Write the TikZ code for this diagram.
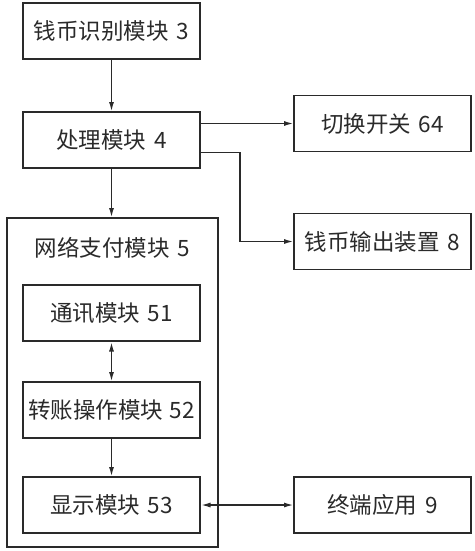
\documentclass[tikz,border=0pt]{standalone}
\usepackage{fontspec}
\setmainfont{Noto Sans CJK SC}
\usepackage{tikz}
\usetikzlibrary{positioning}
\usetikzlibrary{arrows.meta}
\definecolor{ink}{HTML}{2A2A2A}
\tikzset{
	node distance = 50pt and 94pt,
	every path/.style={line width=1.1pt},
	every node/.style={align=center, text=ink, font=\fontsize{22.5pt}{26pt}\selectfont},
	box/.style ={rectangle, draw=ink, outer sep=0pt, minimum width=177pt, minimum height=56pt, inner sep=0pt},
	frame/.style ={rectangle, draw=ink, outer sep=0pt, minimum width=211pt, minimum height=329pt},
	arr/.style={draw=ink, -{Latex[length=9pt,width=5pt]}, shorten >=1pt},
	dbl/.style={draw=ink, {Latex[length=9pt,width=5pt]}-{Latex[length=9pt,width=5pt]}, shorten >=1pt, shorten <=1.5pt}
}

\begin{document}
\begin{tikzpicture}
	\useasboundingbox (0,0) rectangle (474pt,-551pt);
	
	\node (m3) [box] at (111.5pt,-31pt) {钱币识别模块\hspace{0.35em}3};
	\node (m4) [box, below = 53pt of m3] {处理模块\hspace{0.35em}4};
	\node (m64) [box, right = of m4, yshift=16.5pt] {切换开关\hspace{0.35em}64};
	\node (m8) [box, below = 62pt of m64] {钱币输出装置\hspace{0.35em}8};
	
	% network payment
	\node (m5) [frame, below = 50pt of m4, xshift=1pt] {};
	\node (m5_title) at (m5.north) [yshift=-30pt] {网络支付模块\hspace{0.35em}5};
	\node (m51) [box, below = 117pt of m4] {通讯模块\hspace{0.35em}51};
	\node (m52) [box, below = 41pt of m51] {转账操作模块\hspace{0.3em}52};
	\node (m53) [box, below = 39pt of m52] {显示模块\hspace{0.35em}53};
	\node (m9) [box, right = of m53] {终端应用\hspace{0.35em}9};
	
	\draw[arr] (m3) -- (m4);
	\draw[arr] (m4.south) -- (m4.south |- m5.north);
	\draw[arr] (m4.east |- m64) -- (m64);
	\draw[arr] ([yshift=-12.5pt]m4.east) -| ([xshift=-54pt]m8.west) -- (m8.west);
	\draw[dbl] (m51) -- (m52);
	\draw[arr] (m52) -- (m53);
	\draw[dbl] (m53) -- (m9);
	
\end{tikzpicture}
\end{document}
